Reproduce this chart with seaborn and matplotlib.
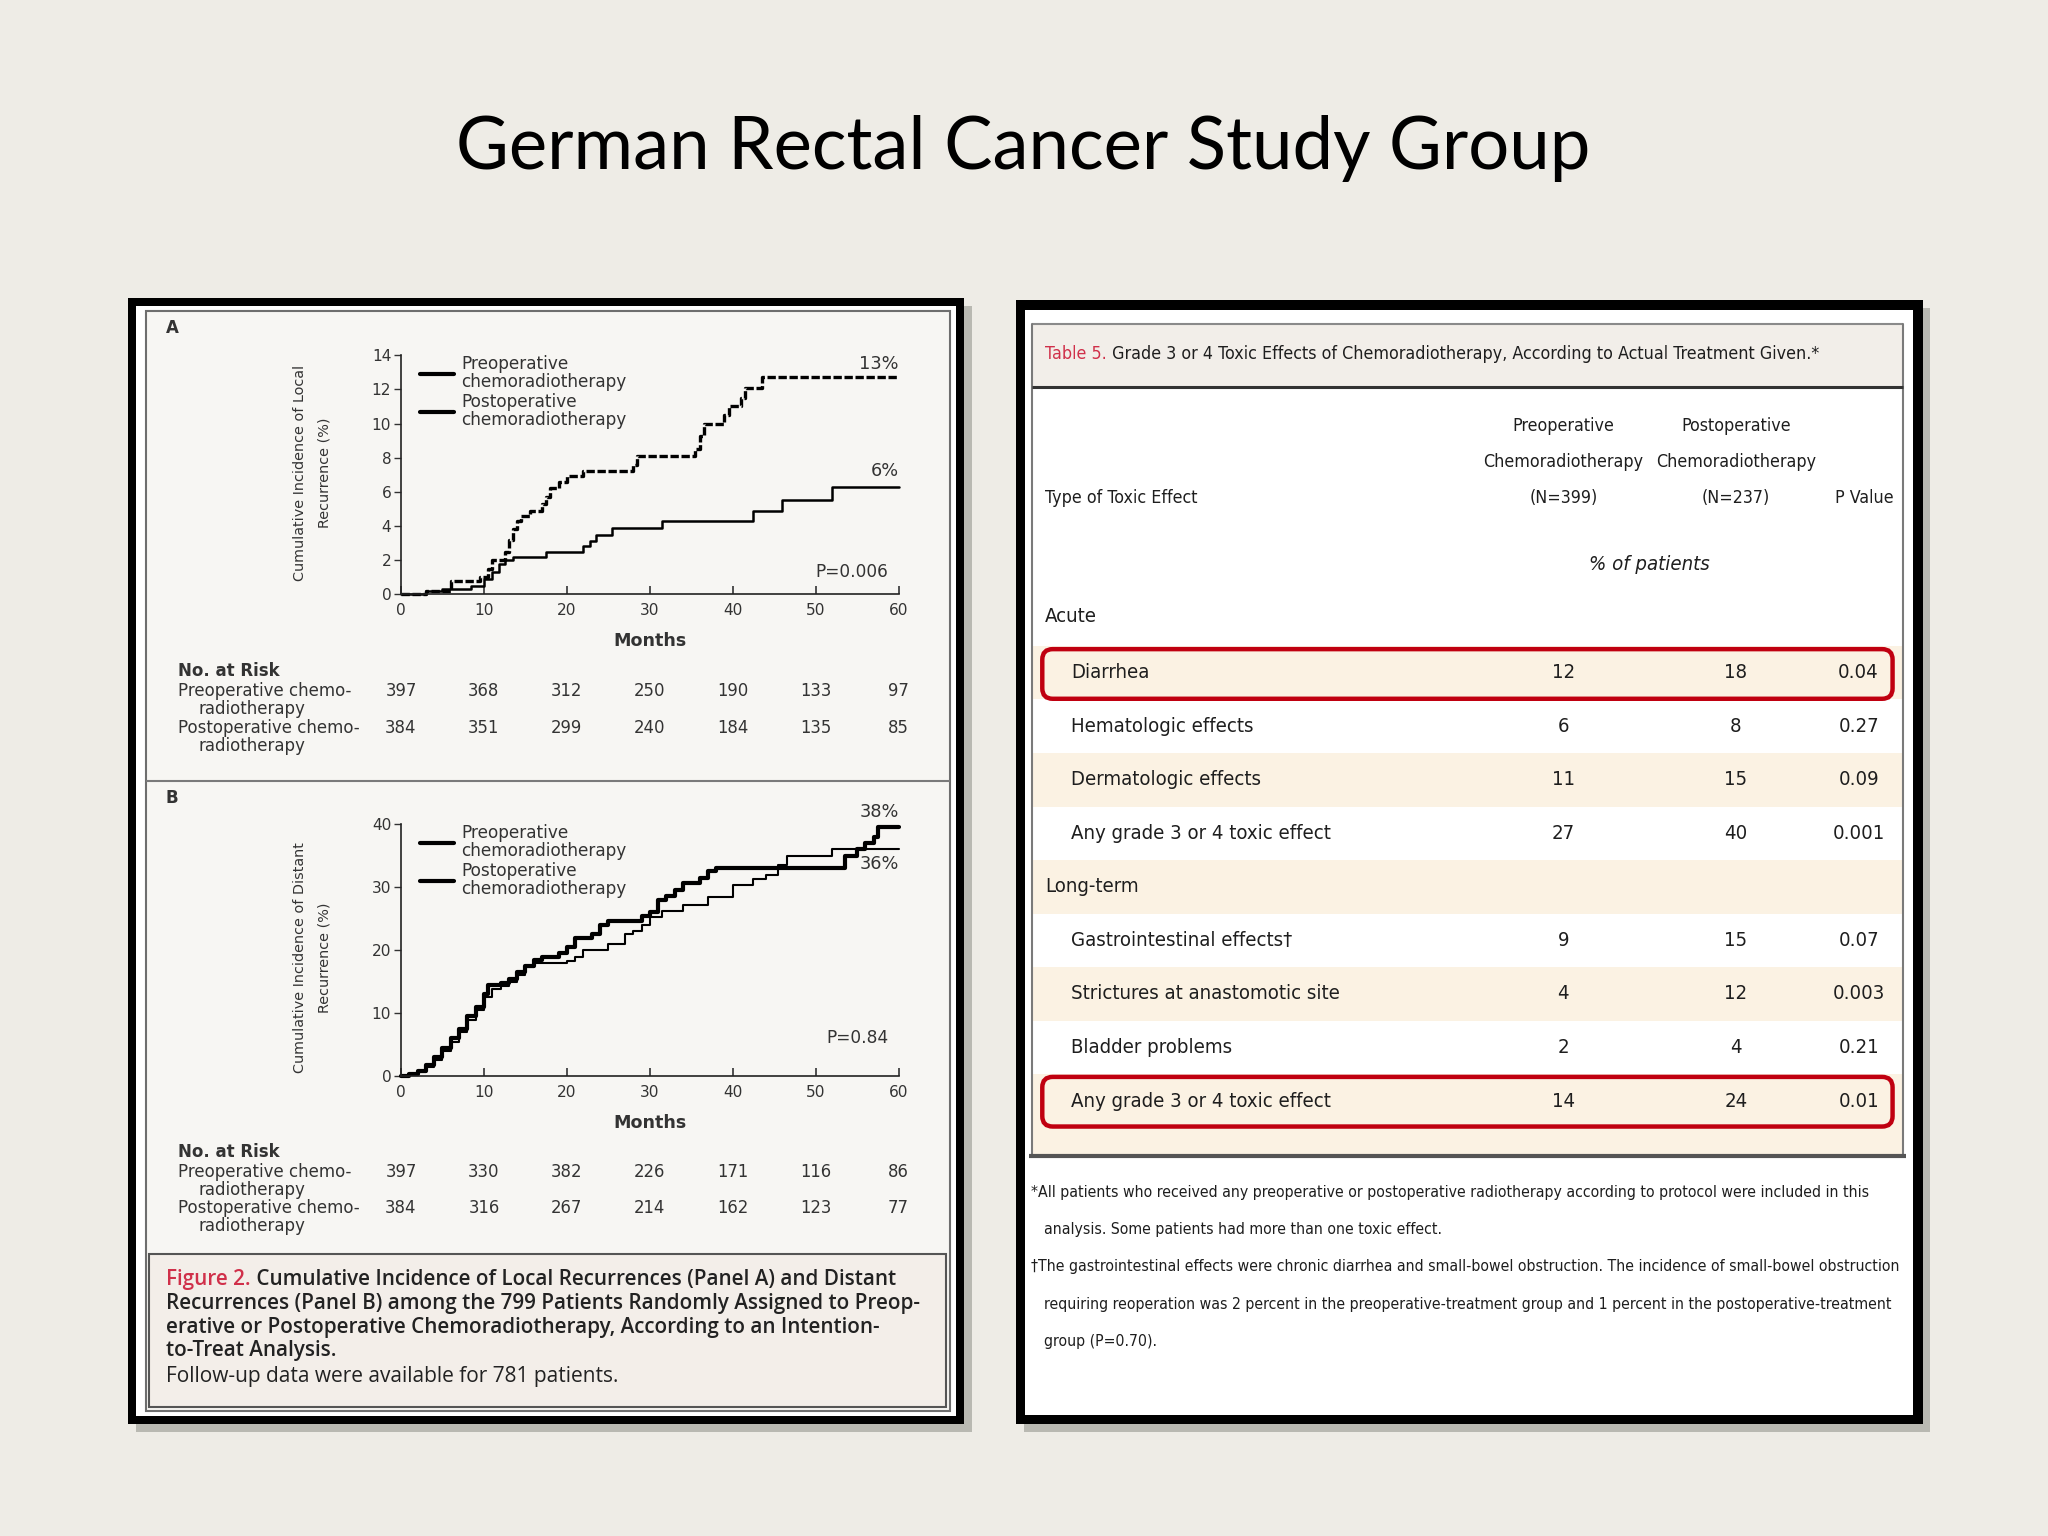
import numpy as np
import pandas as pd
import matplotlib
matplotlib.use('Agg')
import matplotlib.pyplot as plt
import matplotlib.transforms as mtrans
from matplotlib.patches import Rectangle, FancyBboxPatch
from matplotlib.lines import Line2D
from matplotlib import font_manager as fm
import seaborn as sns

sns.set_style('ticks')
avail = {f.name for f in fm.fontManager.ttflist}
SANS = 'Lato' if 'Lato' in avail else 'DejaVu Sans'
CAPF = 'Open Sans' if 'Open Sans' in avail else 'DejaVu Sans'
# narrow face for the table if one is installed, otherwise Lato fitted to width
NARROW, NSTRETCH = SANS, 'normal'
for f in fm.fontManager.ttflist:
    if 'Narrow' in f.name or 'Condensed' in f.name:
        NARROW, NSTRETCH = f.name, 'normal'
        break
    if f.stretch in ('condensed', 'semi-condensed') and f.style == 'normal':
        NARROW, NSTRETCH = f.name, f.stretch
        break
plt.rcParams['font.family'] = [SANS, 'DejaVu Sans']

# ---- data: panel A (local recurrence), step curves
a_pre_month = [0, 3, 5, 8.5, 10, 11, 11.8, 12.5, 13.5, 17.5, 22, 22.8, 23.5, 25.5, 31.5, 42.5, 46, 52, 60]
a_pre_pct = [0, 0.2, 0.3, 0.5, 0.9, 1.3, 1.8, 2.0, 2.2, 2.5, 2.8, 3.1, 3.5, 3.9, 4.3, 4.9, 5.5, 6.3, 6.3]
a_post_month = [0, 3, 6, 9.5, 10.5, 11, 12.5, 13, 13.5, 14, 14.5, 15.5, 17, 17.5, 18, 19, 20, 22,
                28, 28.5, 35.5, 36, 36.5, 39, 39.5, 41, 41.5, 43.5, 60]
a_post_pct = [0, 0.2, 0.8, 1.0, 1.5, 2.0, 2.5, 3.2, 3.8, 4.3, 4.6, 4.9, 5.3, 5.7, 6.2, 6.6, 6.9, 7.2,
              7.6, 8.1, 8.5, 9.3, 10.0, 10.5, 11.0, 11.5, 12.1, 12.7, 12.7]

# ---- data: panel B (distant recurrence)
b_pre_month = [0, 1, 2, 3, 4, 5, 6, 7, 8, 9, 10, 11, 12, 13, 14, 15, 16, 20, 21, 22, 25, 27, 28, 29,
               30, 31.5, 34, 37, 40, 42.5, 44, 45.5, 46.5, 52, 60]
b_pre_pct = [0, 0.2, 0.6, 1.5, 2.5, 4, 5.5, 7, 9, 10.5, 12.5, 13.8, 14.3, 15, 16, 17.3, 18, 18.3, 19,
             20, 21, 22.5, 23, 24, 25.3, 26.2, 27.1, 28.5, 30.3, 31.3, 32, 33.5, 35, 36, 36]
b_post_month = [0, 1, 2, 3, 4, 5, 6, 7, 8, 9, 10, 10.5, 12, 13, 14, 15, 16, 17, 19, 20, 21, 23, 24,
                25, 29, 30, 31, 32, 33, 34, 36, 37, 38, 53, 53.5, 55, 56, 57, 57.5, 60]
b_post_pct = [0, 0.3, 0.8, 1.8, 3, 4.5, 6, 7.5, 9.5, 11, 13, 14.5, 14.8, 15.5, 16.5, 17.5, 18.5, 19,
              19.5, 20.5, 22, 22.5, 24, 24.7, 25.5, 26, 28, 28.6, 29.5, 30.6, 31.5, 32.5, 33.1, 33.1,
              35, 36, 37, 38, 39.5, 39.5]

risk_months = [0, 10, 20, 30, 40, 50, 60]
a_risk_pre = [397, 368, 312, 250, 190, 133, 97]
a_risk_post = [384, 351, 299, 240, 184, 135, 85]
b_risk_pre = [397, 330, 382, 226, 171, 116, 86]
b_risk_post = [384, 316, 267, 214, 162, 123, 77]

# ---- data: table 5
acute_labels = ['Diarrhea', 'Hematologic effects', 'Dermatologic effects', 'Any grade 3 or 4 toxic effect']
acute_pre = [12, 6, 11, 27]
acute_post = [18, 8, 15, 40]
acute_p = ['0.04', '0.27', '0.09', '0.001']
long_labels = ['Gastrointestinal effects\u2020', 'Strictures at anastomotic site', 'Bladder problems',
               'Any grade 3 or 4 toxic effect']
long_pre = [9, 4, 2, 14]
long_post = [15, 12, 4, 24]
long_p = ['0.07', '0.003', '0.21', '0.01']

footnotes = [
    '*All patients who received any preoperative or postoperative radiotherapy according to protocol were included in this',
    'analysis. Some patients had more than one toxic effect.',
    '\u2020The gastrointestinal effects were chronic diarrhea and small-bowel obstruction. The incidence of small-bowel obstruction',
    'requiring reoperation was 2 percent in the preoperative-treatment group and 1 percent in the postoperative-treatment',
    'group (P=0.70).',
]
caption_lines = ['Recurrences (Panel B) among the 799 Patients Randomly Assigned to Preop-',
                 'erative or Postoperative Chemoradiotherapy, According to an Intention-',
                 'to-Treat Analysis.']

W, H = 1568, 1176
fig = plt.figure(figsize=(20.48, 15.36), dpi=100, facecolor='#EEECE6')
bg = fig.add_axes([0, 0, 1, 1])
bg.set_xlim(0, W)
bg.set_ylim(H, 0)
bg.axis('off')
renderer = fig.canvas.get_renderer()


def fit_size(s, target, **kw):
    # font size that makes string s about `target` layout units wide
    t = bg.text(0, 0, s, fontsize=10, **kw)
    w = t.get_window_extent(renderer).width * W / fig.bbox.width
    t.remove()
    return 10 * target / w


def box(x0, y0, x1, y1, **kw):
    bg.add_patch(Rectangle((x0, y0), x1 - x0, y1 - y0, **kw))


def hline(y, x0, x1, **kw):
    bg.plot([x0, x1], [y, y], solid_capstyle='butt', **kw)


def two_tone(x, y, first, rest, c1, c2, **kw):
    t = bg.text(x, y, first, color=c1, va='center', **kw)
    bb = t.get_window_extent(renderer)
    xe = bg.transData.inverted().transform((bb.x1, bb.y0))[0]
    bg.text(xe, y, rest, color=c2, va='center', **kw)


title = 'German Rectal Cancer Study Group'
bg.text(783, 114, title, ha='center', va='center', fontsize=fit_size(title, 870), color='black')

# ---- left figure frame
box(104, 234, 744, 1096, fc='#B9B9B2', ec='none')
box(98, 228, 738, 1090, fc='black', ec='none')
box(104, 234, 732, 1084, fc='white', ec='none')
box(112, 238, 727, 1080, fc='#F7F6F3', ec='#6E6E6E', lw=1.5)
hline(598, 112, 727, color='#7A7A7A', lw=1.5)
box(114, 960, 724, 1077, fc='#F3EEE9', ec='#555555', lw=1.5)

cap_sz = min(fit_size(caption_lines[0], 577, family=CAPF, fontweight='semibold'), 15)
two_tone(127, 980, 'Figure 2.', ' Cumulative Incidence of Local Recurrences (Panel A) and Distant',
         '#D0304A', '#222222', fontsize=cap_sz, fontweight='semibold', family=CAPF)
for i, line in enumerate(caption_lines):
    bg.text(127, 998 + 18 * i, line, va='center', fontsize=cap_sz, fontweight='semibold',
            family=CAPF, color='#222222')
bg.text(127, 1054, 'Follow-up data were available for 781 patients.', va='center', family=CAPF,
        fontsize=fit_size('Follow-up data were available for 781 patients.', 347, family=CAPF),
        color='#222222')

PF = 'DejaVu Sans'
tick_sz = fit_size('60', 15, family=PF)
leg_sz = fit_size('chemoradiotherapy', 127, family=PF)
ylab_sz = fit_size('Cumulative Incidence of Local', 165, family=PF)
risk_sz = min(fit_size('Preoperative chemo-', 136, family=PF), 12)
num_sz = fit_size('397', 24, family=PF)
nar_sz = fit_size('No. at Risk', 78, family=PF, fontweight='bold')
mon_sz = fit_size('Months', 56, family=PF, fontweight='bold')
p_sz = fit_size('P=0.006', 56, family=PF)
end_sz = fit_size('13%', 30, family=PF)


def km_panel(box_xy, letter, letter_y, month_pre, pct_pre, month_post, pct_post, ymax, ystep,
             ylabel, ylab_y, sizes, dashes, end_labels, pval, pval_y, risk_pre, risk_post, risk_y):
    x0, y0, x1, y1 = box_xy
    ax = fig.add_axes([x0 / W, 1 - y1 / H, (x1 - x0) / W, (y1 - y0) / H])
    ax.set_facecolor('none')
    df = pd.concat([
        pd.DataFrame({'month': month_pre, 'pct': pct_pre, 'group': 'pre'}),
        pd.DataFrame({'month': month_post, 'pct': pct_post, 'group': 'post'}),
    ])
    sns.lineplot(data=df, x='month', y='pct', hue='group', style='group', size='group',
                 palette={'pre': 'black', 'post': 'black'}, dashes=dashes, sizes=sizes,
                 drawstyle='steps-post', estimator=None, legend=False, ax=ax, clip_on=False)
    ax.set_xlim(0, 60)
    ax.set_ylim(0, ymax)
    ax.set_xticks(range(0, 61, 10))
    ax.set_yticks(range(0, ymax + 1, ystep))
    ax.set_xlabel('')
    ax.set_ylabel('')
    sns.despine(ax=ax)
    for s in ['left', 'bottom']:
        ax.spines[s].set_linewidth(1.2)
        ax.spines[s].set_color('#222222')
    for lab in ax.get_xticklabels() + ax.get_yticklabels():
        lab.set_family(PF)
    ax.tick_params(axis='y', labelsize=tick_sz, length=5, width=1, direction='out', pad=2, colors='#333333')
    ax.tick_params(axis='x', labelsize=tick_sz, length=6, width=1.2, direction='in', pad=6, colors='#333333')
    handles = [Line2D([], [], color='black', lw=3), Line2D([], [], color='black', lw=3)]
    leg = ax.legend(handles, ['Preoperative\nchemoradiotherapy', 'Postoperative\nchemoradiotherapy'],
                    loc='upper left', bbox_to_anchor=(0.038, 1.0), frameon=False,
                    prop={'family': PF, 'size': leg_sz},
                    handlelength=2.0, handletextpad=0.45, labelspacing=0.1, borderaxespad=0, borderpad=0)
    for t in leg.get_texts():
        t.set_linespacing(1.0)
        t.set_color('#333333')
    for txt, yv in end_labels:
        ax.text(60, yv, txt, ha='right', va='center', fontsize=end_sz, family=PF, color='#333333')
    ax.text(58.8, pval_y, pval, ha='right', va='center', fontsize=p_sz, family=PF, color='#333333')

    bt = mtrans.blended_transform_factory(ax.transData, bg.transData)
    ax.text(30, y1 + 36, 'Months', transform=bt, ha='center', va='center', fontsize=mon_sz,
            fontweight='bold', family=PF, color='#333333')
    bg.text(127, letter_y, letter, fontsize=12, fontweight='bold', family=PF, va='center', color='#333333')
    bg.text(239, ylab_y, ylabel, rotation=90, ha='center', va='center', fontsize=ylab_sz,
            family=PF, linespacing=2.0, color='#333333')
    bg.text(136, risk_y, 'No. at Risk', fontsize=nar_sz, fontweight='bold', family=PF,
            va='center', color='#333333')
    labels = [('Preoperative chemo-', 15), ('radiotherapy', 29), ('Postoperative chemo-', 43), ('radiotherapy', 57)]
    for (lab, dy), xoff in zip(labels, [136, 152, 136, 152]):
        bg.text(xoff, risk_y + dy, lab, fontsize=risk_sz, family=PF, va='center', color='#333333')
    for m, n1, n2 in zip(risk_months, risk_pre, risk_post):
        ax.text(m, risk_y + 15, str(n1), transform=bt, ha='center', va='center', fontsize=num_sz,
                family=PF, color='#333333')
        ax.text(m, risk_y + 43, str(n2), transform=bt, ha='center', va='center', fontsize=num_sz,
                family=PF, color='#333333')
    return ax


km_panel((307, 272, 688, 455), 'A', 251, a_pre_month, a_pre_pct, a_post_month, a_post_pct, 14, 2,
         'Cumulative Incidence of Local\nRecurrence (%)', 362,
         {'pre': 1.8, 'post': 2.4}, {'pre': '', 'post': (2.5, 0.8)},
         [('13%', 13.5), ('6%', 7.2)], 'P=0.006', 1.3,
         a_risk_pre, a_risk_post, 514)
km_panel((307, 631, 688, 824), 'B', 611, b_pre_month, b_pre_pct, b_post_month, b_post_pct, 40, 10,
         'Cumulative Incidence of Distant\nRecurrence (%)', 733,
         {'pre': 1.5, 'post': 3.0}, {'pre': '', 'post': ''},
         [('38%', 41.9), ('36%', 33.6)], 'P=0.84', 6.0,
         b_risk_pre, b_risk_post, 882)

# ---- right table frame
box(784, 236, 1478, 1096, fc='#B9B9B2', ec='none')
box(778, 230, 1472, 1090, fc='black', ec='none')
box(785, 237, 1465, 1083, fc='white', ec='none')
box(790, 248, 1457, 296, fc='#F2EEE9', ec='none')
hline(248, 790, 1457, color='#8A8A8A', lw=1.5)

NF = dict(family=[NARROW, 'DejaVu Sans'], fontstretch=NSTRETCH)
row_y = [515, 556, 597, 638, 679, 720, 761, 802, 843]
shaded = [True, False, True, False, True, False, True, False, True]
for yy, sh in zip(row_y, shaded):
    if sh:
        box(791, yy - 20.5, 1456, yy + 20.5, fc='#FBF2E3', ec='none')
box(791, 863, 1456, 885, fc='#FBF2E3', ec='none')
for xx in [790, 1457]:
    bg.plot([xx, xx], [248, 885], color='#7A7A7A', lw=1.5)
hline(296, 790, 1457, color='#333333', lw=2.2)
hline(885, 788, 1459, color='#555555', lw=3)

tt = 'Table 5. Grade 3 or 4 Toxic Effects of Chemoradiotherapy, According to Actual Treatment Given.*'
tt_sz = fit_size(tt, 590, **NF)
two_tone(800, 271, 'Table 5.', tt[8:], '#D0304A', '#1E1E1E', fontsize=tt_sz, **NF)

hdr_sz = fit_size('Chemoradiotherapy', 122, **NF)
hdr = dict(fontsize=hdr_sz, color='#1E1E1E', ha='center', va='center', **NF)
for cx, lines in [(1197, ['Preoperative', 'Chemoradiotherapy', '(N=399)']),
                  (1329, ['Postoperative', 'Chemoradiotherapy', '(N=237)'])]:
    for k, t in enumerate(lines):
        bg.text(cx, 326 + 27.5 * k, t, **hdr)
bg.text(1427, 381, 'P Value', **hdr)
hdr_l = dict(hdr)
hdr_l['ha'] = 'left'
bg.text(800, 381, 'Type of Toxic Effect', **hdr_l)

row_sz = fit_size('Any grade 3 or 4 toxic effect', 200, **NF)
bg.text(1263, 432, '% of patients', fontsize=row_sz, style='italic', color='#1E1E1E',
        ha='center', va='center', **NF)
cell = dict(fontsize=row_sz, color='#1E1E1E', va='center', **NF)
bg.text(800, 472, 'Acute', **cell)
bg.text(800, 679, 'Long-term', **cell)
rows = list(zip(row_y[:4], acute_labels, acute_pre, acute_post, acute_p)) + \
       list(zip(row_y[5:], long_labels, long_pre, long_post, long_p))
for yy, lab, v1, v2, pv in rows:
    bg.text(820, yy, lab, **cell)
    bg.text(1197, yy, str(v1), ha='center', **cell)
    bg.text(1329, yy, str(v2), ha='center', **cell)
    bg.text(1423, yy, pv, ha='center', **cell)

for yy in [516, 843.5]:
    bg.add_patch(FancyBboxPatch((798, yy - 19), 651, 38, boxstyle='round,pad=0,rounding_size=8',
                                fc='none', ec='#C00010', lw=3.2))

foot_sz = fit_size(footnotes[0], 640, **NF)
foot = dict(fontsize=foot_sz, color='#1E1E1E', va='center', **NF)
for (fx, fy), line in zip([(789, 913), (799, 941), (789, 970), (799, 999), (799, 1027)], footnotes):
    bg.text(fx, fy, line, **foot)

fig.savefig('out.png', dpi=100, facecolor=fig.get_facecolor())
